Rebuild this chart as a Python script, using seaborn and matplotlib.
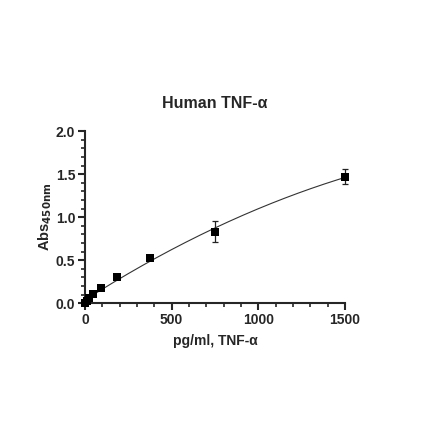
import numpy as np
import pandas as pd
import seaborn as sns
import matplotlib
matplotlib.use("Agg")
import matplotlib.pyplot as plt
from matplotlib.ticker import MultipleLocator

conc = [0, 11.7, 23.4, 46.9, 93.75, 187.5, 375, 750, 1500]
absorb = [0.0, 0.03, 0.06, 0.11, 0.175, 0.30, 0.52, 0.83, 1.47]
sd = [0.005, 0.005, 0.01, 0.01, 0.01, 0.015, 0.02, 0.12, 0.09]
x_ticks = [0, 500, 1000, 1500]
y_ticks = [0.0, 0.5, 1.0, 1.5, 2.0]

sns.set_style("ticks")
plt.rcParams['font.family'] = ['Liberation Sans', 'DejaVu Sans']
plt.rcParams['font.weight'] = 'bold'

df = pd.DataFrame({"conc": conc, "abs": absorb, "sd": sd})

# fitted curve (quadratic least-squares through the points)
coef = np.polyfit(df["conc"], df["abs"], 2)
xs = np.linspace(0, 1500, 200)
fit = pd.DataFrame({"conc": xs, "abs": np.polyval(coef, xs)})

fig = plt.figure(figsize=(4.4, 4.4), dpi=100)
ax = fig.add_axes([0.193, 0.311, 0.591, 0.391])

sns.lineplot(data=fit, x="conc", y="abs", ax=ax, color="#333333", linewidth=0.8)
ax.errorbar(df["conc"], df["abs"], yerr=df["sd"], fmt="none", ecolor="#222222",
            elinewidth=0.9, capsize=2.5, capthick=0.9, clip_on=False)
sns.scatterplot(data=df, x="conc", y="abs", ax=ax, marker="s", color="black",
                s=32, edgecolor="black", linewidth=0, clip_on=False, zorder=5)

ax.set_xlim(0, 1500)
ax.set_ylim(0, 2.0)
ax.set_xticks(x_ticks)
ax.set_yticks(y_ticks)
ax.set_yticklabels([f"{v:.1f}" for v in y_ticks])
ax.xaxis.set_minor_locator(MultipleLocator(100))
ax.yaxis.set_minor_locator(MultipleLocator(0.1))
for s in ["top", "right"]:
    ax.spines[s].set_visible(False)
for s in ["left", "bottom"]:
    ax.spines[s].set_linewidth(1.5)
ax.tick_params(which="major", length=5, width=1.5, labelsize=10, pad=2)
ax.tick_params(which="minor", length=3, width=1.2)
for lab in ax.get_xticklabels() + ax.get_yticklabels():
    lab.set_fontweight("bold")

ax.set_xlabel("pg/ml, TNF-α", fontsize=10, fontweight="bold", labelpad=5)
ax.set_ylabel("Abs$_{\\mathbf{450nm}}$", fontsize=10.5, fontweight="bold", labelpad=1)
ax.set_title("Human TNF-α", fontsize=11.5, fontweight="bold", pad=17)

fig.savefig("out.png", dpi=100)
